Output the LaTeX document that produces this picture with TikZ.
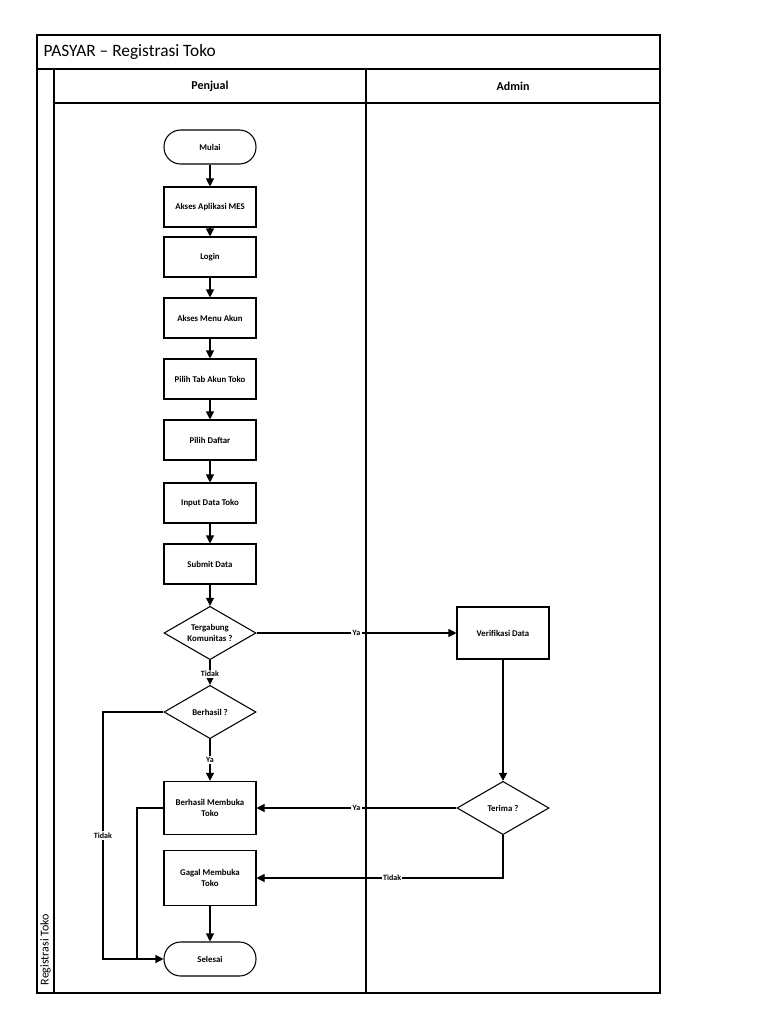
\documentclass[tikz,border=0pt]{standalone}
\usepackage{fontspec}
\setmainfont{Carlito}
\usetikzlibrary{shapes.geometric,arrows.meta}
\begin{document}
\begin{tikzpicture}[x=0.75pt,y=-0.75pt,
 box/.style={draw,thick,minimum width=69pt,minimum height=30pt,align=center,font=\fontsize{6.6}{8}\selectfont\bfseries,inner sep=1pt,fill=white},
 term/.style={box,rounded corners=12.5pt,minimum height=25.5pt},
 dec/.style={draw,thick,diamond,aspect=1.7,minimum width=69pt,minimum height=40pt,inner sep=0pt,align=center,font=\fontsize{6.6}{8}\selectfont\bfseries,fill=white},
 arr/.style={-{Triangle[length=6pt,width=6pt]},line width=0.8pt},
 lbl/.style={font=\fontsize{6}{7}\selectfont\bfseries,fill=white,inner sep=1pt}]
\useasboundingbox (0,0) rectangle (768,1024);
\fill[white] (0,0) rectangle (768,1024);
% frame
\draw[thick] (37,35) rectangle (660,993);
\draw[thick] (37,69) -- (660,69);
\draw[thick] (54,103) -- (660,103);
\draw[thick] (54,69) -- (54,993);
\draw[thick] (366,69) -- (366,993);
\node[anchor=west,font=\fontsize{13}{15}\selectfont] (title) at (39,52) {PASYAR -- Registrasi Toko};
\node[font=\fontsize{9}{10}\selectfont\bfseries] (hp) at (210,86) {Penjual};
\node[font=\fontsize{9}{10}\selectfont\bfseries] (ha) at (513,86) {Admin};
\node[rotate=90,anchor=west,font=\fontsize{9}{10}\selectfont] (lane) at (45.5,990) {Registrasi Toko};
% nodes
\node[term] (mulai) at (210,147) {Mulai};
\node[box] (n1) at (210,207) {Akses Aplikasi MES};
\node[box] (n2) at (210,257) {Login};
\node[box] (n3) at (210,318) {Akses Menu Akun};
\node[box] (n4) at (210,379) {Pilih Tab Akun Toko};
\node[box] (n5) at (210,440) {Pilih Daftar};
\node[box] (n6) at (210,503) {Input Data Toko};
\node[box] (n7) at (210,564) {Submit Data};
\node[dec] (d1) at (210,633) {Tergabung\\Komunitas ?};
\node[box,minimum height=39pt] (ver) at (503,633) {Verifikasi Data};
\node[dec] (d2) at (210,712) {Berhasil ?};
\node[box,minimum height=40pt] (ok) at (210,808) {Berhasil Membuka\\Toko};
\node[dec] (d3) at (503,808) {Terima ?};
\node[box,minimum height=41pt] (fail) at (210,878) {Gagal Membuka\\Toko};
\node[term] (end) at (210,959) {Selesai};
\coordinate (c1) at (103,712);
\coordinate (c2) at (103,959);
\coordinate (c3) at (137,808);
\coordinate (c4) at (137,959);
\coordinate (c5) at (503,878);
% edges
\foreach \a/\b in {mulai/n1,n1/n2,n2/n3,n3/n4,n4/n5,n5/n6,n6/n7,n7/d1,fail/end}
  \draw[arr] (\a) -- (\b);
\draw[arr] (d1) -- node[lbl,pos=0.5]{Ya} (ver);
\draw[arr] (d1) -- node[lbl,pos=0.55]{Tidak} (d2);
\draw[arr] (d2) -- node[lbl,pos=0.5]{Ya} (ok);
\draw[arr] (d2.west) -- (c1) -- node[lbl,pos=0.5]{Tidak} (c2) -- (end.west);
\draw[line width=0.8pt] (ok.west) -- (c3) -- (c4);
\draw[arr,line width=1.2pt] (ver) -- (d3);
\draw[arr] (d3) -- node[lbl,pos=0.5]{Ya} (ok);
\draw[arr] (d3.south) -- (c5) -- node[lbl,pos=0.45]{Tidak} (fail.east);
\end{tikzpicture}
\end{document}
